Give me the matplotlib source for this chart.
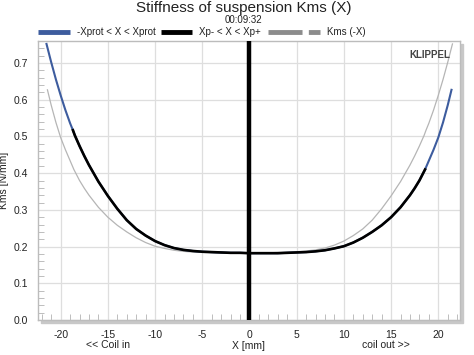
import matplotlib
matplotlib.use('Agg')
import matplotlib.pyplot as plt
from matplotlib.lines import Line2D
from matplotlib.patches import Rectangle
from matplotlib.ticker import MultipleLocator
import numpy as np

plt.rcParams['font.family'] = ['Liberation Sans', 'DejaVu Sans']
plt.rcParams['axes.unicode_minus'] = False

# Kms(X), displacement in mm
x_mm = [-21.5, -21, -20.5, -20, -19.5, -19, -18.7, -18.5, -18, -17.5, -17, -16, -15,
        -14, -13, -12, -11, -10, -9, -8, -7, -6, -5, -4, -3, -2, -1, 0,
        1, 2, 3, 4, 5, 6, 7, 8, 9, 10, 11, 12, 13, 14, 15, 16, 17, 17.5, 18, 18.5,
        18.6, 19, 19.5, 20, 20.5, 21, 21.4]
kms = [0.752, 0.702, 0.655, 0.612, 0.572, 0.536, 0.517, 0.503, 0.474, 0.447, 0.422,
       0.377, 0.338, 0.303, 0.272, 0.248, 0.230, 0.215, 0.204, 0.196, 0.191, 0.188,
       0.186, 0.185, 0.184, 0.183, 0.183, 0.182,
       0.182, 0.182, 0.182, 0.183, 0.184, 0.185, 0.187, 0.190, 0.195, 0.201, 0.211,
       0.224, 0.240, 0.258, 0.280, 0.307, 0.340, 0.359, 0.380, 0.405,
       0.410, 0.434, 0.464, 0.497, 0.538, 0.585, 0.627]

# displacement limits (Xp-, Xp+)
xp_minus = -18.7
xp_plus = 18.6

legend_labels = ['-Xprot < X < Xprot', 'Xp- < X < Xp+', 'Kms (-X)']

blue = '#3d5c9e'
gray = '#b5b5b5'

x = np.array(x_mm)
k = np.array(kms)
inside = (x >= xp_minus) & (x <= xp_plus)

fig = plt.figure(figsize=(4.74, 3.55), dpi=100)
ax_box = [38 / 474, 35 / 355, 422 / 474, 279 / 355]
ax = fig.add_axes(ax_box)
ax.set_zorder(2)

# drop shadow of the plot frame
fig.patches.append(Rectangle((ax_box[0] + 3 / 474, ax_box[1] - 3 / 355), ax_box[2], ax_box[3],
                             transform=fig.transFigure, color='#c8c8c8', zorder=0))

ax.plot(-x, k, color=gray, lw=0.9, zorder=3)
ax.plot(x, k, color=blue, lw=1.5, zorder=4)
ax.plot(x[inside], k[inside], color='black', lw=1.9, zorder=5)
ax.axvline(0, color='black', lw=3.2, zorder=6)

ax.set_xlim(-22.4, 22.3)
ax.set_ylim(0, 0.76)
ax.xaxis.set_major_locator(MultipleLocator(5))
ax.xaxis.set_minor_locator(MultipleLocator(1))
ax.yaxis.set_minor_locator(MultipleLocator(0.02))
ax.set_yticks(np.arange(0, 0.71, 0.1))
ax.set_yticklabels([f'{v:.1f}' for v in np.arange(0, 0.71, 0.1)])
ax.grid(True, which='major', color='#dedede', lw=0.9)
ax.tick_params(which='major', length=0, labelsize=7.5, colors='#222222')
ax.tick_params(axis='x', which='major', pad=7)
ax.tick_params(axis='y', which='major', pad=7)
ax.tick_params(which='minor', direction='in', length=4, width=0.7, color='#bdbdbd')
for s in ax.spines.values():
    s.set_color('#bcbcbc')
    s.set_linewidth(1.0)

ax.set_xlabel('X [mm]', fontsize=7.5, labelpad=1, color='#222222')
ax.set_ylabel('Kms [N/mm]', fontsize=7.5, color='#222222')
ax.yaxis.set_label_coords(-0.068, 0.5)
ax.text(-15, -0.068, '<< Coil in', fontsize=7.5, ha='center', va='center', color='#222222')
ax.text(14.5, -0.068, 'coil out >>', fontsize=7.5, ha='center', va='center', color='#222222')
ax.text(0.976, 0.95, 'KLIPPEL', transform=ax.transAxes, fontsize=7, fontweight='bold',
        ha='right', va='center', color='#444444')

fig.text(0.515, 0.966, 'Stiffness of suspension Kms (X)', fontsize=11, ha='center',
         va='baseline', color='#222222')
fig.text(0.513, 0.943, '00:09:32', fontsize=7, ha='center', va='center', color='#222222')

# legend row above the plot
ly = 1 - 32 / 355
handles = [(38, 70, blue, '-'), (161, 192, 'black', '-'), (268, 320, '#8c8c8c', '--')]
text_x = [77, 199, 327]
for (x0, x1, c, ls), tx, lab in zip(handles, text_x, legend_labels):
    line = Line2D([x0 / 474, x1 / 474], [ly, ly], transform=fig.transFigure, color=c,
                  lw=3.5, ls=ls, solid_capstyle='butt')
    if ls == '--':
        line.set_dashes((7, 1.3))
    fig.add_artist(line)
    fig.text(tx / 474, ly, lab, fontsize=7, ha='left', va='center', color='#222222')

fig.savefig('out.png', dpi=100)
